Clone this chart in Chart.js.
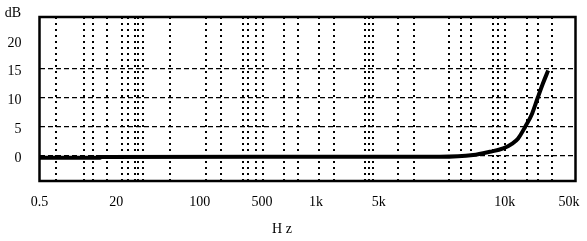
<!DOCTYPE html>
<html>
<head>
<meta charset="utf-8">
<script src="https://cdn.jsdelivr.net/npm/chart.js@4"></script>
<style>
  html, body { margin: 0; padding: 0; background: #fff; }
  #wrap { width: 587px; height: 241px; }
</style>
</head>
<body>
<div id="wrap"><canvas id="freqChart" width="587" height="241"></canvas></div>
<script>
// x axis is not a real log scale in the source picture, so positions are
// given in axis units (0..100 across the plot)
const xLabels = ['0.5', '20', '100', '500', '1k', '5k', '10k', '50k']
const xLabelPos = [0, 14.3, 29.9, 41.5, 51.6, 63.3, 86.8, 98.8]
const xGridPos = [
  3.1, 8.3, 10.0, 12.6, 15.4, 16.5, 17.8, 18.4, 19.3, 24.3, 31.1, 33.9, 38.0,
  38.9, 40.4, 41.7, 45.6, 48.2, 52.1, 54.9, 60.7, 61.5, 62.2, 66.9, 69.9,
  76.4, 78.6, 80.5, 84.6, 85.5, 86.8, 90.9, 93.0, 95.6
]
const yTicks = [0, 5, 10, 15, 20]

// response curve (dB)
const curveX = [0, 11.3, 11.5, 48.6, 74.7, 80.9, 84.0, 86.5, 88.2, 89.3, 90.6, 91.9, 93.0, 93.9, 94.9]
const curveDb = [-0.45, -0.45, -0.35, -0.3, -0.3, 0, 0.57, 1.16, 2.0, 2.9, 4.9, 7.2, 10.1, 12.4, 14.7]

Chart.defaults.font.family = "'Liberation Serif', 'Times New Roman', serif"
Chart.defaults.font.size = 14
Chart.defaults.color = '#000'

const frame = {
  id: 'frame',
  afterDraw(chart) {
    const c = chart.ctx, a = chart.chartArea
    c.save()
    c.strokeStyle = '#000'
    c.lineWidth = 2.5
    c.strokeRect(a.left, a.top, a.right - a.left, a.bottom - a.top)
    c.fillStyle = '#000'
    c.font = "14px 'Liberation Serif'"
    c.textAlign = 'center'
    c.textBaseline = 'middle'
    c.fillText('dB', 13, 13)
    c.fillText('H z', 282, 229)
    c.restore()
  }
}

// fixed plot box: no extra room for label overhang
const noPad = s => {
  s.paddingTop = 0
  s.paddingBottom = 0
  s.paddingLeft = 0
  s.paddingRight = 0
}

const ctx = document.getElementById('freqChart').getContext('2d')
new Chart(ctx, {
  type: 'line',
  data: {
    datasets: [{
      data: curveX.map((x, i) => ({ x: x, y: curveDb[i] })),
      xAxisID: 'x',
      borderColor: '#000',
      borderWidth: 4,
      pointRadius: 0,
      cubicInterpolationMode: 'monotone',
      fill: false
    }]
  },
  options: {
    responsive: false,
    animation: false,
    layout: { padding: { top: 17, right: 11.5, left: 0, bottom: 0 } },
    plugins: { legend: { display: false }, tooltip: { enabled: false } },
    scales: {
      x: {
        type: 'linear', min: 0, max: 100, position: 'bottom',
        afterBuildTicks: s => { s.ticks = xGridPos.map(v => ({ value: v })) },
        afterFit: s => { s.height = 0; noPad(s) },
        ticks: { display: false },
        grid: { color: '#000', lineWidth: 2, drawTicks: false },
        border: { display: false, dash: [2, 4] }
      },
      x2: {
        type: 'linear', min: 0, max: 100, position: 'bottom',
        afterBuildTicks: s => { s.ticks = xLabelPos.map(v => ({ value: v })) },
        afterFit: s => { s.height = 60; noPad(s) },
        ticks: {
          autoSkip: false, maxRotation: 0, padding: 13,
          callback: (v, i) => xLabels[i]
        },
        grid: { display: false, drawTicks: false },
        border: { display: false }
      },
      y: {
        min: -4.5, max: 24,
        afterBuildTicks: s => { s.ticks = yTicks.map(v => ({ value: v })) },
        afterFit: s => { s.width = 39.5; noPad(s) },
        ticks: { padding: 18, labelOffset: 3 },
        grid: {
          drawTicks: false,
          lineWidth: 1.2,
          color: c => (c.tick && c.tick.value === 20) ? 'rgba(0,0,0,0)' : '#000'
        },
        border: { display: false, dash: [5, 3] }
      }
    }
  },
  plugins: [frame]
})
</script>
</body>
</html>
